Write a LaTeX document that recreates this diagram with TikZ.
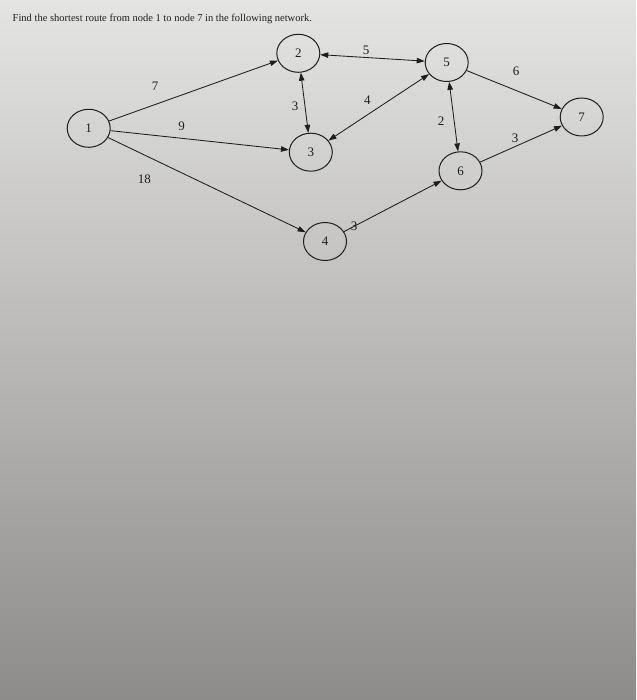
\documentclass[tikz,border=0pt]{standalone}
\usepackage{fontspec}
\setmainfont{Liberation Serif}
\usetikzlibrary{shapes.geometric,arrows.meta}
\definecolor{ink}{HTML}{1E1E1E}
\definecolor{papertop}{HTML}{E4E4E2}
\definecolor{papermid}{HTML}{C6C6C2}
\definecolor{paperbot}{HTML}{8E8C8B}
\tikzset{
  vert/.style={ellipse, draw=ink, line width=1pt, minimum width=43pt, minimum height=38pt, inner sep=0pt, text=ink, font=\fontsize{13}{13}\selectfont},
  arc1/.style={draw=ink, line width=0.85pt, -{Triangle[length=8pt,width=5.5pt]}},
  arc2/.style={draw=ink, line width=0.85pt, {Triangle[length=8pt,width=5.5pt]}-{Triangle[length=8pt,width=5.5pt]}},
  wlab/.style={text=ink, font=\fontsize{13}{13}\selectfont, inner sep=0pt},
}
\begin{document}
\begin{tikzpicture}[x=1pt,y=-1pt]
\useasboundingbox (0,0) rectangle (636,700);
\shade[top color=papertop, middle color=papermid, bottom color=paperbot] (0,0) rectangle (636,700);
\node[anchor=base west, text=ink, font=\fontsize{10.5}{12}\selectfont, inner sep=0pt] (title) at (12.5,21.5) {Find the shortest route from node 1 to node 7 in the following network.};
\node[vert] (n1) at (88.7,128.3) {1};
\node[vert] (n2) at (298.3,53.3) {2};
\node[vert] (n3) at (310.8,152.2) {3};
\node[vert] (n4) at (325,241.5) {4};
\node[vert] (n5) at (446.7,62.5) {5};
\node[vert] (n6) at (460.5,170.8) {6};
\node[vert] (n7) at (581.7,117) {7};
\draw[arc1] (n1) -- (n2);
\draw[arc1] (n1) -- (n3);
\draw[arc1] (n1) -- (n4);
\draw[arc2] (n2) -- (n3);
\draw[arc2] (n2) -- (n5);
\draw[arc2] (n3) -- (n5);
\draw[arc2] (n5) -- (n6);
\draw[arc1] (n5) -- (n7);
\draw[arc1] (n6) -- (n7);
\draw[arc1] (n4) -- (n6);
\node[wlab] (l12) at (155,86) {7};
\node[wlab] (l13) at (181.7,126.7) {9};
\node[wlab] (l14) at (144.3,179.3) {18};
\node[wlab] (l23) at (295,106) {3};
\node[wlab] (l25) at (366,50.7) {5};
\node[wlab] (l35) at (367.3,100) {4};
\node[wlab] (l56) at (441,120.7) {2};
\node[wlab] (l57) at (516,71.7) {6};
\node[wlab] (l67) at (515,138.3) {3};
\node[wlab] (l46) at (354,226.7) {3};
\end{tikzpicture}
\end{document}
